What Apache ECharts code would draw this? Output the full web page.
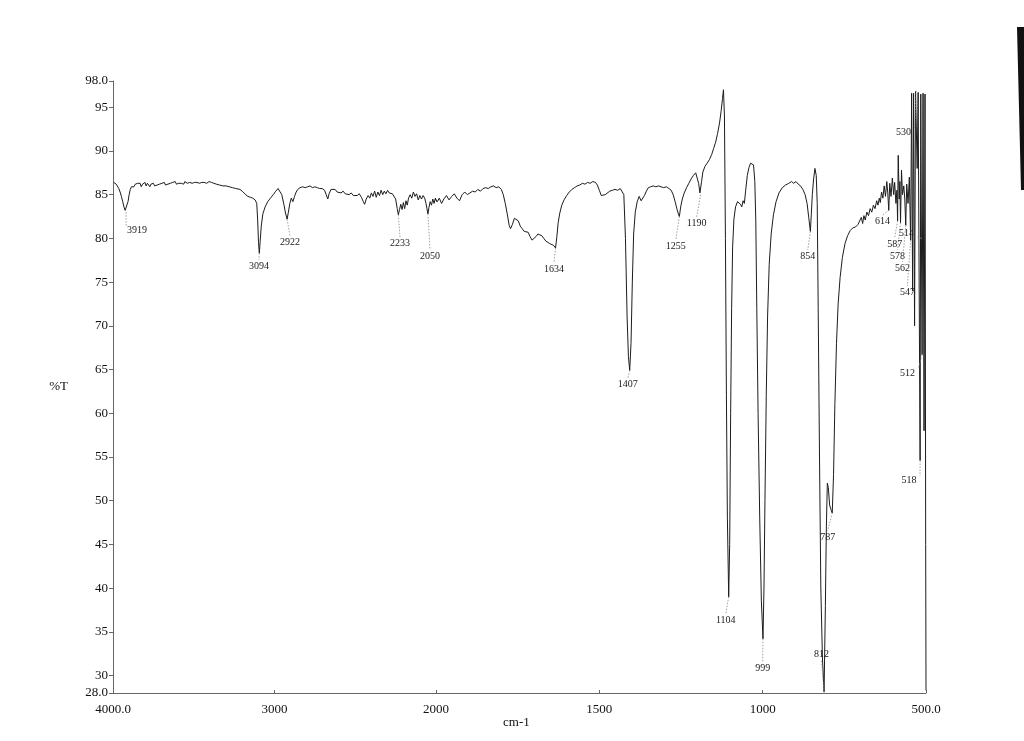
<!DOCTYPE html>
<html>
<head>
<meta charset="utf-8">
<script src="https://cdn.jsdelivr.net/npm/echarts@6/dist/echarts.min.js"></script>
<style>
  html, body { margin: 0; padding: 0; background: #fff; }
  #chart { width: 1024px; height: 741px; }
</style>
</head>
<body>
<div id="chart"></div>
<script>
// IR spectrum, [wavenumber cm-1, %T]
const spectrum = [
  [3995, 86.4], [3988, 86.3], [3980, 86.2], [3972, 86.0], [3964, 85.7], [3956, 85.3], [3948, 84.8],
  [3940, 84.2], [3932, 83.6], [3925, 83.2], [3919, 83.0], [3913, 83.4], [3907, 84.2], [3900, 85.0],
  [3893, 85.6], [3886, 85.9], [3878, 86.1], [3870, 85.9], [3862, 86.2], [3855, 86.0], [3847, 86.3],
  [3840, 86.1], [3832, 86.3], [3825, 85.9], [3817, 86.2], [3810, 86.1], [3802, 86.4], [3795, 86.0],
  [3787, 86.3], [3780, 86.1], [3772, 85.9], [3765, 86.2], [3757, 86.1], [3750, 86.3], [3742, 86.0],
  [3735, 86.2], [3727, 86.1], [3720, 86.3], [3712, 86.2], [3705, 86.0], [3697, 86.3], [3690, 86.2],
  [3682, 86.4], [3675, 86.1], [3667, 86.3], [3660, 86.2], [3652, 86.4], [3645, 86.3], [3637, 86.1],
  [3630, 86.4], [3622, 86.3], [3615, 86.5], [3607, 86.2], [3600, 86.4], [3592, 86.3], [3585, 86.5],
  [3577, 86.3], [3570, 86.4], [3562, 86.2], [3555, 86.5], [3547, 86.4], [3540, 86.3], [3532, 86.5],
  [3525, 86.4], [3517, 86.6], [3510, 86.3], [3502, 86.5], [3495, 86.4], [3487, 86.6], [3480, 86.4],
  [3472, 86.5], [3465, 86.3], [3457, 86.5], [3450, 86.4], [3442, 86.6], [3435, 86.4], [3427, 86.5],
  [3420, 86.3], [3412, 86.4], [3405, 86.5], [3397, 86.3], [3390, 86.4], [3382, 86.2], [3375, 86.3],
  [3367, 86.1], [3360, 86.2], [3350, 86.0], [3340, 86.1], [3330, 85.9], [3320, 86.0], [3310, 85.9],
  [3300, 86.0], [3290, 85.8], [3280, 85.9], [3270, 85.7], [3260, 85.8], [3250, 85.6], [3240, 85.7],
  [3230, 85.7], [3214, 85.6], [3200, 85.4], [3190, 85.2], [3178, 85.0], [3165, 84.8], [3150, 84.7],
  [3135, 84.6], [3120, 84.4], [3110, 84.0], [3104, 82.0], [3099, 79.5], [3094, 78.3], [3089, 79.6],
  [3082, 81.4], [3072, 82.8], [3058, 83.6], [3042, 84.2], [3025, 84.6], [3008, 85.0], [2992, 85.4],
  [2978, 85.7], [2966, 85.6], [2955, 85.0], [2942, 83.9], [2932, 82.9], [2922, 82.2], [2914, 83.0],
  [2905, 84.0], [2896, 84.6], [2886, 84.2], [2876, 84.8], [2866, 85.3], [2856, 85.6], [2842, 85.8],
  [2826, 85.9], [2810, 85.8], [2795, 85.9], [2780, 86.0], [2765, 85.8], [2750, 85.9], [2735, 85.8],
  [2720, 85.7], [2705, 85.7], [2690, 85.5], [2680, 85.0], [2670, 84.5], [2662, 85.1], [2650, 85.6],
  [2638, 85.4], [2625, 85.6], [2612, 85.3], [2600, 85.5], [2588, 85.2], [2575, 85.4], [2562, 85.1],
  [2550, 85.3], [2538, 85.0], [2525, 85.2], [2512, 84.9], [2500, 85.1], [2488, 84.9], [2475, 85.1],
  [2462, 84.7], [2450, 84.2], [2442, 83.9], [2432, 84.5], [2420, 84.9], [2410, 84.6], [2400, 85.2],
  [2390, 84.8], [2380, 85.4], [2370, 84.7], [2360, 85.3], [2350, 84.9], [2340, 85.5], [2330, 85.0],
  [2320, 85.4], [2310, 85.1], [2300, 85.5], [2290, 85.2], [2280, 85.4], [2270, 85.1], [2260, 85.2],
  [2250, 84.5], [2240, 83.4], [2233, 82.7], [2226, 83.3], [2218, 83.9], [2210, 83.3], [2202, 84.1],
  [2194, 83.4], [2186, 84.3], [2178, 83.8], [2170, 84.6], [2160, 85.0], [2150, 84.6], [2140, 85.3],
  [2130, 84.8], [2120, 85.1], [2110, 84.4], [2100, 84.9], [2090, 84.5], [2080, 84.9], [2070, 84.6],
  [2062, 84.0], [2056, 83.4], [2050, 82.8], [2044, 83.5], [2036, 84.2], [2028, 83.8], [2020, 84.5],
  [2012, 84.0], [2004, 84.6], [1996, 84.2], [1990, 84.6], [1983, 84.0], [1976, 84.5], [1968, 84.9],
  [1960, 84.4], [1952, 84.8], [1944, 85.1], [1936, 84.6], [1928, 84.3], [1920, 85.0], [1912, 85.3],
  [1904, 85.0], [1896, 85.2], [1888, 85.4], [1880, 85.3], [1872, 85.6], [1864, 85.4], [1856, 85.7],
  [1848, 85.8], [1840, 85.7], [1832, 85.9], [1824, 86.0], [1816, 85.8], [1808, 85.9], [1800, 85.6],
  [1794, 85.0], [1788, 84.0], [1782, 82.8], [1776, 81.5], [1772, 81.1], [1766, 81.6], [1760, 82.3],
  [1754, 82.5], [1748, 82.0], [1742, 81.4], [1736, 81.1], [1730, 80.8], [1724, 81.0], [1718, 80.7],
  [1712, 80.2], [1706, 79.8], [1700, 79.7], [1694, 80.2], [1688, 80.5], [1682, 80.6], [1676, 80.3],
  [1670, 80.0], [1664, 79.7], [1658, 79.6], [1652, 79.4], [1646, 79.3], [1640, 79.2], [1634, 78.9],
  [1630, 80.2], [1626, 81.8], [1621, 82.9], [1615, 83.8], [1608, 84.4], [1600, 84.9], [1592, 85.3],
  [1584, 85.6], [1576, 85.8], [1568, 86.0], [1560, 86.1], [1552, 86.3], [1544, 86.2], [1536, 86.4],
  [1528, 86.3], [1520, 86.5], [1512, 86.4], [1506, 86.1], [1500, 85.5], [1494, 84.9], [1488, 84.8],
  [1482, 85.0], [1476, 85.2], [1468, 85.4], [1460, 85.5], [1452, 85.6], [1444, 85.5], [1436, 85.7],
  [1430, 85.6], [1425, 85.0], [1420, 80.0], [1415, 71.0], [1411, 66.5], [1407, 64.9], [1403, 68.0],
  [1399, 75.0], [1395, 80.5], [1390, 83.0], [1384, 84.2], [1378, 84.8], [1372, 84.3], [1367, 84.1],
  [1362, 84.9], [1356, 85.4], [1350, 85.8], [1343, 85.9], [1335, 86.0], [1327, 85.9], [1319, 86.0],
  [1311, 85.9], [1303, 85.8], [1295, 85.9], [1287, 85.7], [1280, 85.5], [1274, 85.0], [1268, 84.2],
  [1262, 83.3], [1258, 82.8], [1255, 82.5], [1251, 83.6], [1246, 84.5], [1240, 85.2], [1233, 85.8],
  [1226, 86.3], [1219, 86.8], [1212, 87.2], [1205, 87.5], [1200, 87.3], [1196, 86.3], [1192, 85.2],
  [1190, 85.0], [1187, 86.5], [1183, 87.6], [1177, 88.2], [1170, 88.6], [1163, 89.0], [1156, 89.6],
  [1150, 90.3], [1144, 91.0], [1138, 92.0], [1132, 93.2], [1127, 94.6], [1123, 96.0], [1120, 97.0],
  [1117, 94.0], [1114, 80.0], [1111, 62.0], [1108, 48.0], [1104, 39.0], [1101, 45.0], [1098, 60.0],
  [1095, 72.0], [1092, 79.0], [1088, 82.2], [1083, 83.6], [1077, 84.2], [1072, 84.4], [1068, 83.9],
  [1064, 83.6], [1060, 84.3], [1056, 84.0], [1052, 85.5], [1047, 87.2], [1042, 88.1], [1037, 88.6],
  [1032, 88.8], [1028, 88.4], [1024, 86.5], [1021, 82.0], [1018, 72.0], [1014, 60.0], [1009, 48.0],
  [1004, 38.5], [999, 34.2], [996, 40.0], [993, 50.0], [989, 62.0], [985, 71.0], [980, 77.0],
  [974, 80.5], [967, 82.7], [959, 84.2], [950, 85.2], [940, 85.8], [930, 86.1], [920, 86.3],
  [912, 86.5], [905, 86.3], [898, 86.5], [891, 86.2], [884, 86.0], [877, 85.6], [870, 85.0],
  [864, 84.0], [859, 82.4], [854, 80.8], [851, 82.8], [848, 85.0], [844, 86.8], [840, 88.0],
  [836, 87.2], [833, 84.0], [830, 72.0], [826, 55.0], [822, 40.0], [817, 32.0], [812, 28.1],
  [808, 38.0], [805, 47.0], [802, 52.0], [799, 51.5], [795, 49.5], [791, 49.0], [787, 48.6],
  [783, 53.0], [779, 61.0], [774, 68.0], [769, 72.5], [763, 75.5], [756, 77.8], [748, 79.4],
  [740, 80.3], [732, 80.9], [724, 81.2], [716, 81.3], [708, 81.6], [703, 81.8], [698, 82.4],
  [694, 81.7], [690, 82.6], [686, 82.1], [681, 83.0], [676, 82.6], [671, 83.4], [666, 83.0],
  [661, 83.8], [656, 83.4], [651, 84.3], [647, 83.8], [643, 84.6], [640, 84.1], [636, 85.3],
  [632, 84.6], [628, 86.0], [624, 84.8], [620, 86.5], [617, 85.2], [614, 83.2], [611, 86.3],
  [607, 84.8], [603, 86.9], [599, 85.0], [596, 86.4], [592, 84.0], [589, 85.5], [587, 82.0],
  [585, 89.5], [582, 84.5], [580, 86.5], [578, 81.8], [575, 87.8], [572, 85.0], [568, 86.0],
  [565, 84.5], [562, 81.5], [559, 86.2], [555, 84.0], [551, 87.0], [547, 79.8], [544, 96.6],
  [541, 74.0], [538, 96.6], [535, 70.0], [532, 96.8], [530, 96.9], [527, 88.0], [524, 96.7],
  [521, 75.0], [518, 54.6], [516, 96.5], [514, 80.0], [512, 66.7], [509, 96.6], [506, 58.0],
  [503, 96.5], [501, 45.0], [500, 28.3]
];

// peak picks: [wavenumber, %T at the peak]
const peaks = [
  [3919, 83.0], [3094, 78.3], [2922, 82.2], [2233, 82.7], [2050, 82.8], [1634, 78.9],
  [1407, 64.9], [1255, 82.5], [1190, 85.0], [1104, 39.0], [999, 34.2], [854, 80.8],
  [812, 28.1], [787, 48.6], [614, 83.2], [587, 82.0], [578, 81.8], [562, 81.5],
  [547, 79.8], [514, 80.0], [530, 96.9], [512, 66.7], [518, 54.6]
];
// where each peak label sits, in axis units [wavenumber, %T]
const peakLabelAt = [
  [3851, 80.96], [3096, 76.84], [2904, 79.58], [2223, 79.47], [2037, 77.98], [1639, 76.5],
  [1413, 63.34], [1266, 79.12], [1202, 81.75], [1113, 36.35], [1000, 30.86], [862, 77.98],
  [820, 32.46], [801, 45.84], [633, 81.99], [596, 79.35], [587, 77.98], [572, 76.61],
  [557, 73.87], [560, 80.62], [569, 92.17], [557, 64.6], [552, 52.36]
];

const yTicks = [28, 30, 35, 40, 45, 50, 55, 60, 65, 70, 75, 80, 85, 90, 95, 98];
const xTicksHigh = [4000, 3000];
const xTicksLow = [2000, 1500, 1000, 500];

const FONT = 'Liberation Serif';
const BREAK = 2000;

// split the trace at the axis break, keeping one point beyond each side so the clip joins up
const idx = spectrum.findIndex(p => p[0] < BREAK);
const highPart = spectrum.slice(0, idx + 1);
const lowPart = spectrum.slice(idx - 1);

const annos = peaks.map((p, i) => [p[0], p[1], peakLabelAt[i][0], peakLabelAt[i][1], String(p[0])]);
const annoHigh = annos.filter(a => a[0] >= BREAK);
const annoLow = annos.filter(a => a[0] < BREAK);

function renderPeak(params, api) {
  const p = api.coord([api.value(0), api.value(1)]);
  const l = api.coord([api.value(2), api.value(3)]);
  const dx = p[0] - l[0];
  const dy = p[1] - l[1];
  let end;
  if (Math.abs(dx) > 9) {
    end = [l[0] + Math.sign(dx) * 11, l[1] + Math.sign(dy) * 4];
  } else {
    end = [l[0], l[1] + Math.sign(dy) * 6];
  }
  const children = [];
  if (Math.hypot(p[0] - end[0], p[1] - end[1]) > 3) {
    children.push({
      type: 'line',
      shape: { x1: p[0], y1: p[1], x2: end[0], y2: end[1] },
      style: { stroke: '#888', lineWidth: 0.8, lineDash: [1.5, 1.5] }
    });
  }
  children.push({
    type: 'text',
    x: l[0], y: l[1],
    style: {
      text: api.value(4) + '',
      fill: '#222',
      font: '10px ' + FONT,
      align: 'center',
      verticalAlign: 'middle'
    }
  });
  return { type: 'group', children };
}

const axisLineStyle = { color: '#666', width: 1 };
const labelStyle = { color: '#111', fontFamily: FONT, fontSize: 13 };

const chart = echarts.init(document.getElementById('chart'), null, { renderer: 'canvas' });

chart.setOption({
  animation: false,
  backgroundColor: '#fff',
  grid: [
    { left: 113, top: 81, width: 323, bottom: 48, outerBoundsMode: 'none' },
    { left: 436, top: 81, width: 490, bottom: 48, outerBoundsMode: 'none' }
  ],
  xAxis: [
    {
      gridIndex: 0, type: 'value', min: BREAK, max: 4000, inverse: true,
      axisLine: { lineStyle: axisLineStyle },
      axisTick: { customValues: [4000, 3000, 2000], inside: true, length: 3, lineStyle: axisLineStyle },
      axisLabel: {
        ...labelStyle, margin: 10, customValues: xTicksHigh,
        formatter: v => v === 4000 ? '4000.0' : String(v)
      },
      splitLine: { show: false }
    },
    {
      gridIndex: 1, type: 'value', min: 500, max: BREAK, inverse: true,
      axisLine: { lineStyle: axisLineStyle },
      axisTick: { customValues: xTicksLow, inside: true, length: 3, lineStyle: axisLineStyle },
      axisLabel: {
        ...labelStyle, margin: 10, customValues: xTicksLow,
        formatter: v => v === 500 ? '500.0' : String(v)
      },
      splitLine: { show: false }
    }
  ],
  yAxis: [
    {
      gridIndex: 0, type: 'value', min: 28, max: 98,
      name: '%T', nameLocation: 'middle', nameRotate: 0, nameGap: 45,
      nameTextStyle: { color: '#111', fontFamily: FONT, fontSize: 13 },
      axisLine: { show: true, lineStyle: axisLineStyle },
      axisTick: { show: true, customValues: yTicks, length: 4, lineStyle: axisLineStyle },
      axisLabel: {
        ...labelStyle, margin: 5, customValues: yTicks,
        formatter: v => (v === 28 || v === 98) ? v.toFixed(1) : String(v)
      },
      splitLine: { show: false }
    },
    {
      gridIndex: 1, type: 'value', min: 28, max: 98, show: false
    }
  ],
  series: [
    {
      type: 'line', xAxisIndex: 0, yAxisIndex: 0, data: highPart,
      symbol: 'none', smooth: false, clip: true,
      lineStyle: { color: '#1c1c1c', width: 1 }
    },
    {
      type: 'line', xAxisIndex: 1, yAxisIndex: 1, data: lowPart,
      symbol: 'none', smooth: false, clip: true,
      lineStyle: { color: '#1c1c1c', width: 1 }
    },
    {
      type: 'custom', xAxisIndex: 0, yAxisIndex: 0, data: annoHigh,
      encode: { x: 0, y: 1 }, clip: false, renderItem: renderPeak, z: 5
    },
    {
      type: 'custom', xAxisIndex: 1, yAxisIndex: 1, data: annoLow,
      encode: { x: 0, y: 1 }, clip: false, renderItem: renderPeak, z: 5
    }
  ],
  graphic: [
    {
      type: 'text', left: 503, top: 716,
      style: { text: 'cm-1', fill: '#111', font: '13px ' + FONT }
    },
    {
      // dark scanner edge on the right
      type: 'polygon',
      shape: { points: [[1017, 27], [1024, 27], [1024, 190], [1021, 190]] },
      style: { fill: '#111' }
    }
  ]
});
</script>
</body>
</html>
